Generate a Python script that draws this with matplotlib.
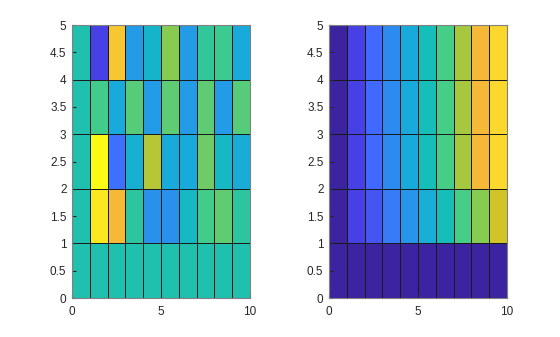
import numpy as np
from matplotlib import pyplot as plt
from matplotlib.colors import LinearSegmentedColormap

# parula-like colormap, anchors (position, rgb 0-255)
parula_pts = [
    (0.00, (60, 35, 160)),
    (0.10, (70, 65, 230)),
    (0.20, (65, 105, 255)),
    (0.30, (45, 140, 240)),
    (0.40, (25, 170, 220)),
    (0.50, (20, 190, 185)),
    (0.60, (70, 205, 135)),
    (0.70, (150, 202, 70)),
    (0.78, (210, 195, 40)),
    (0.85, (245, 185, 55)),
    (0.92, (250, 215, 45)),
    (1.00, (250, 250, 20)),
]
parula = LinearSegmentedColormap.from_list(
    'parula', [(p, tuple(c / 255 for c in rgb)) for p, rgb in parula_pts])

# cell values, rows from bottom (y 0-1) to top (y 4-5)
left_vals = [
    [0.52, 0.52, 0.52, 0.52, 0.52, 0.52, 0.52, 0.52, 0.52, 0.52],
    [0.52, 0.96, 0.85, 0.55, 0.32, 0.32, 0.47, 0.59, 0.63, 0.55],
    [0.52, 1.00, 0.22, 0.43, 0.74, 0.40, 0.40, 0.65, 0.47, 0.41],
    [0.52, 0.59, 0.40, 0.62, 0.35, 0.63, 0.35, 0.63, 0.35, 0.62],
    [0.52, 0.10, 0.88, 0.35, 0.45, 0.68, 0.35, 0.56, 0.58, 0.40],
]
right_vals = [
    [0.00, 0.00, 0.00, 0.00, 0.00, 0.00, 0.00, 0.00, 0.00, 0.00],
    [0.00, 0.10, 0.15, 0.25, 0.33, 0.42, 0.50, 0.60, 0.68, 0.78],
    [0.00, 0.10, 0.20, 0.30, 0.40, 0.50, 0.60, 0.72, 0.85, 0.92],
    [0.00, 0.10, 0.20, 0.30, 0.40, 0.50, 0.60, 0.72, 0.85, 0.92],
    [0.00, 0.10, 0.20, 0.30, 0.40, 0.50, 0.60, 0.72, 0.85, 0.92],
]

xticks = [0, 5, 10]
yticks = [0, 0.5, 1, 1.5, 2, 2.5, 3, 3.5, 4, 4.5, 5]
ylabels = ['0', '0.5', '1', '1.5', '2', '2.5', '3', '3.5', '4', '4.5', '5']

plt.rcParams['font.family'] = 'Liberation Sans'
fig = plt.figure(figsize=(5.6, 3.37), dpi=100)

xe = np.arange(11)
ye = np.arange(6)
gray = (0.15, 0.15, 0.15)
for left, vals in [(0.1286, left_vals), (0.5875, right_vals)]:
    ax = fig.add_axes([left, 0.1157, 0.318, 0.81])
    ax.pcolormesh(xe, ye, np.array(vals), cmap=parula, vmin=0, vmax=1,
                  edgecolor=(0.1, 0.1, 0.1), linewidth=0.6)
    ax.set_xlim(0, 10)
    ax.set_ylim(0, 5)
    ax.set_xticks(xticks)
    ax.set_xticklabels([str(t) for t in xticks])
    ax.set_yticks(yticks)
    ax.set_yticklabels(ylabels)
    ax.tick_params(direction='in', length=3, labelsize=8.5, colors=gray)
    ax.tick_params(axis='x', pad=6)
    ax.tick_params(axis='y', pad=4)
    for s in ax.spines.values():
        s.set_color((0.5, 0.5, 0.5))
        s.set_linewidth(0.8)

fig.savefig('out.png', dpi=100)
